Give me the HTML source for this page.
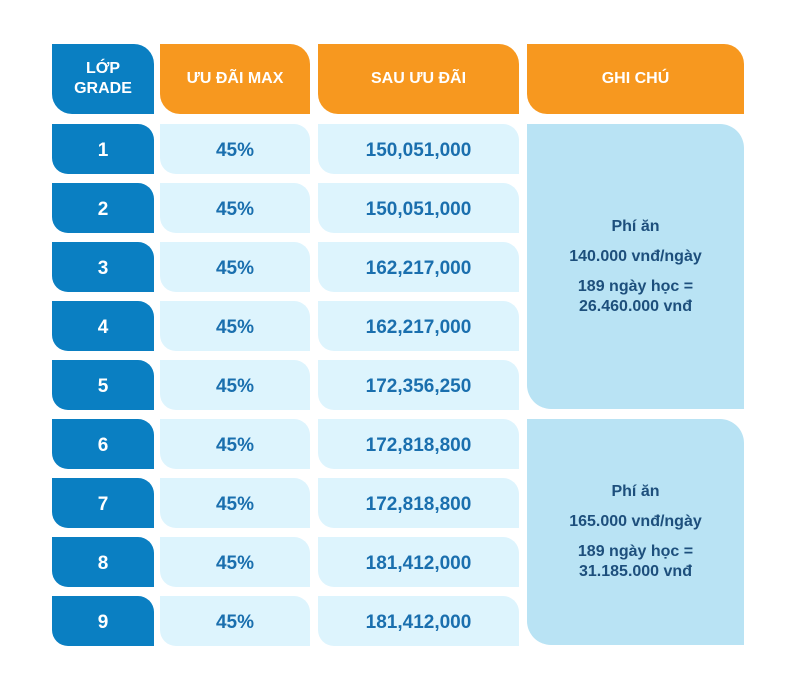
<!DOCTYPE html>
<html><head><meta charset="utf-8"><style>
body{margin:0;width:800px;height:677px;background:#fff;position:relative;overflow:hidden;font-family:"Liberation Sans",sans-serif;font-weight:bold}
.c{position:absolute;display:flex;align-items:center;justify-content:center;text-align:center;box-sizing:border-box}
.h{top:44px;height:70px;color:#fff;border-radius:0 20px 0 20px;font-size:16px;line-height:20px}
.b{background:#0a7fc2}.o{background:#f7981f}
.g,.p,.s{padding-top:4px;height:50px;font-size:19px;border-radius:0 16px 0 16px}
.g{left:52px;width:102px;background:#0a7fc2;color:#fff}
.p{left:160px;width:150px;background:#ddf4fd;color:#1a6fae}
.s{left:318px;width:201px;background:#ddf4fd;color:#1a6fae}
.n{left:527px;width:217px;background:#b9e3f4;color:#1d4f7c;font-size:16px;line-height:20px;border-radius:0 24px 0 24px;flex-direction:column}
.n div{margin:5px 0}
</style></head><body>
<div class="c h b" style="left:52px;width:102px">LỚP<br>GRADE</div>
<div class="c h o" style="left:160px;width:150px">ƯU ĐÃI MAX</div>
<div class="c h o" style="left:318px;width:201px">SAU ƯU ĐÃI</div>
<div class="c h o" style="left:527px;width:217px">GHI CHÚ</div>

<div class="c g" style="top:124px">1</div><div class="c p" style="top:124px">45%</div><div class="c s" style="top:124px">150,051,000</div>
<div class="c g" style="top:183px">2</div><div class="c p" style="top:183px">45%</div><div class="c s" style="top:183px">150,051,000</div>
<div class="c g" style="top:242px">3</div><div class="c p" style="top:242px">45%</div><div class="c s" style="top:242px">162,217,000</div>
<div class="c g" style="top:301px">4</div><div class="c p" style="top:301px">45%</div><div class="c s" style="top:301px">162,217,000</div>
<div class="c g" style="top:360px">5</div><div class="c p" style="top:360px">45%</div><div class="c s" style="top:360px">172,356,250</div>
<div class="c g" style="top:419px">6</div><div class="c p" style="top:419px">45%</div><div class="c s" style="top:419px">172,818,800</div>
<div class="c g" style="top:478px">7</div><div class="c p" style="top:478px">45%</div><div class="c s" style="top:478px">172,818,800</div>
<div class="c g" style="top:537px">8</div><div class="c p" style="top:537px">45%</div><div class="c s" style="top:537px">181,412,000</div>
<div class="c g" style="top:596px">9</div><div class="c p" style="top:596px">45%</div><div class="c s" style="top:596px">181,412,000</div>

<div class="c n" style="top:124px;height:285px"><div>Phí ăn</div><div>140.000 vnđ/ngày</div><div>189 ngày học =<br>26.460.000 vnđ</div></div>
<div class="c n" style="top:419px;height:226px"><div>Phí ăn</div><div>165.000 vnđ/ngày</div><div>189 ngày học =<br>31.185.000 vnđ</div></div>
</body></html>
